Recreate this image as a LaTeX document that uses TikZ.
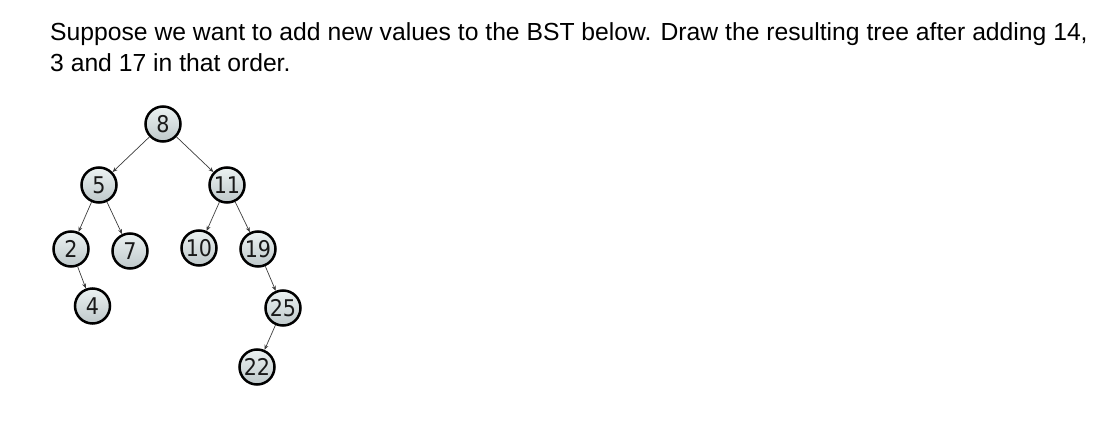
\documentclass[tikz,border=0pt]{standalone}
\usepackage{fontspec}
\setmainfont{Liberation Sans}
\newfontfamily\nodefont{DejaVu Sans Condensed}
\usetikzlibrary{arrows.meta}
\begin{document}
\begin{tikzpicture}[x=1pt,y=1pt,
  bst/.style={circle, draw=black, line width=2.5pt, minimum size=35pt, inner sep=0pt,
    top color={rgb,255:red,236;green,242;blue,242}, bottom color={rgb,255:red,190;green,200;blue,202},
    font=\nodefont\fontsize{23}{23}\selectfont, text={rgb,255:red,25;green,25;blue,25}},
  link/.style={draw={rgb,255:red,60;green,60;blue,60}, line width=0.7pt, -{Stealth[length=5pt,width=4pt]}}]
\useasboundingbox (0,0) rectangle (1116,-422);
\node[anchor=base west, inner sep=0pt, font=\fontsize{24.7}{30}\selectfont] (l1) at (50,-40.5) {Suppose we want to add new values to the BST below. Draw the resulting tree after adding 14,};
\node[anchor=base west, inner sep=0pt, font=\fontsize{24.7}{30}\selectfont] (l2) at (50,-71.5) {3 and 17 in that order.};
\node[bst] (n8) at (163,-124) {8};
\node[bst] (n5) at (99,-185) {5};
\node[bst] (n11) at (227,-185) {11};
\node[bst] (n2) at (71,-249) {2};
\node[bst] (n7) at (130,-251) {7};
\node[bst] (n10) at (199,-248) {10};
\node[bst] (n19) at (258,-249) {19};
\node[bst] (n4) at (92.5,-306) {4};
\node[bst] (n25) at (283,-308) {25};
\node[bst] (n22) at (257,-367) {22};
\draw[link] (n8) -- (n5);
\draw[link] (n8) -- (n11);
\draw[link] (n5) -- (n2);
\draw[link] (n5) -- (n7);
\draw[link] (n11) -- (n10);
\draw[link] (n11) -- (n19);
\draw[link] (n2) -- (n4);
\draw[link] (n19) -- (n25);
\draw[link] (n25) -- (n22);
\end{tikzpicture}
\end{document}
